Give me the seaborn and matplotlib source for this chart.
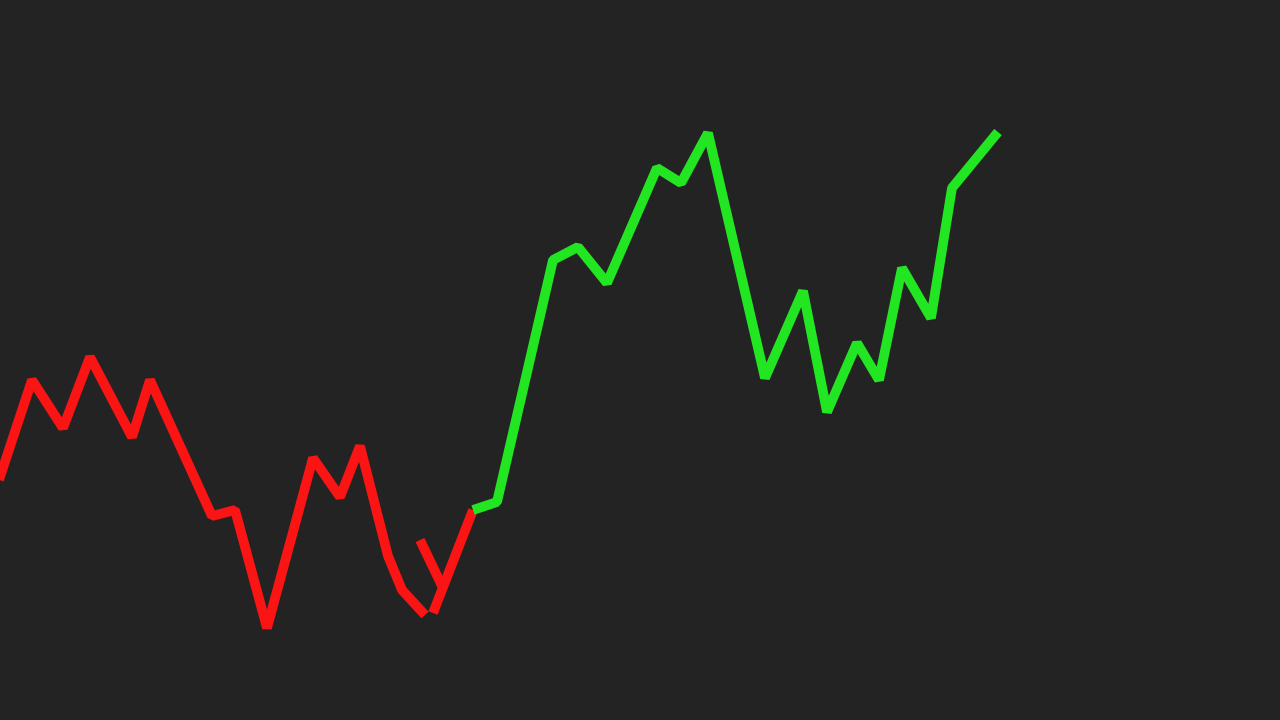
import matplotlib
matplotlib.use("Agg")
import matplotlib.pyplot as plt
import seaborn as sns
import pandas as pd

# Red (falling) series
red_x = [-6, 32, 63, 90, 132, 150, 212, 235, 267, 313, 340, 360, 388, 402, 425]
red_v = [225, 340, 292, 363, 283, 340, 204, 210, 92, 262, 223, 274, 164, 130, 105]
# short red branch
branch_x = [420, 443]
branch_v = [180, 132]
# red rebound
rebound_x = [433, 473]
rebound_v = [107, 210]
# Green (rising) series
green_x = [473, 497, 553, 578, 607, 657, 681, 708, 765, 803, 827, 857, 879, 902, 931, 952, 998]
green_v = [210, 218, 460, 473, 437, 552, 537, 587, 342, 429, 308, 377, 340, 452, 402, 532, 588]

BG = "#232323"
RED = "#fa1414"
GREEN = "#22e622"

sns.set_theme(style="dark")
fig = plt.figure(figsize=(12.8, 7.2), dpi=100)
fig.patch.set_facecolor(BG)
ax = fig.add_axes([0, 0, 1, 1])
ax.set_facecolor(BG)

lw = 7.0
for xs, vs, c in [(red_x, red_v, RED), (branch_x, branch_v, RED),
                  (rebound_x, rebound_v, RED), (green_x, green_v, GREEN)]:
    df = pd.DataFrame({"x": xs, "v": vs})
    sns.lineplot(data=df, x="x", y="v", sort=False, color=c, linewidth=lw,
                 ax=ax, solid_joinstyle="bevel", solid_capstyle="butt")

ax.set_xlim(0, 1280)
ax.set_ylim(0, 720)
ax.axis("off")
fig.savefig("out.png", dpi=100, facecolor=BG)
